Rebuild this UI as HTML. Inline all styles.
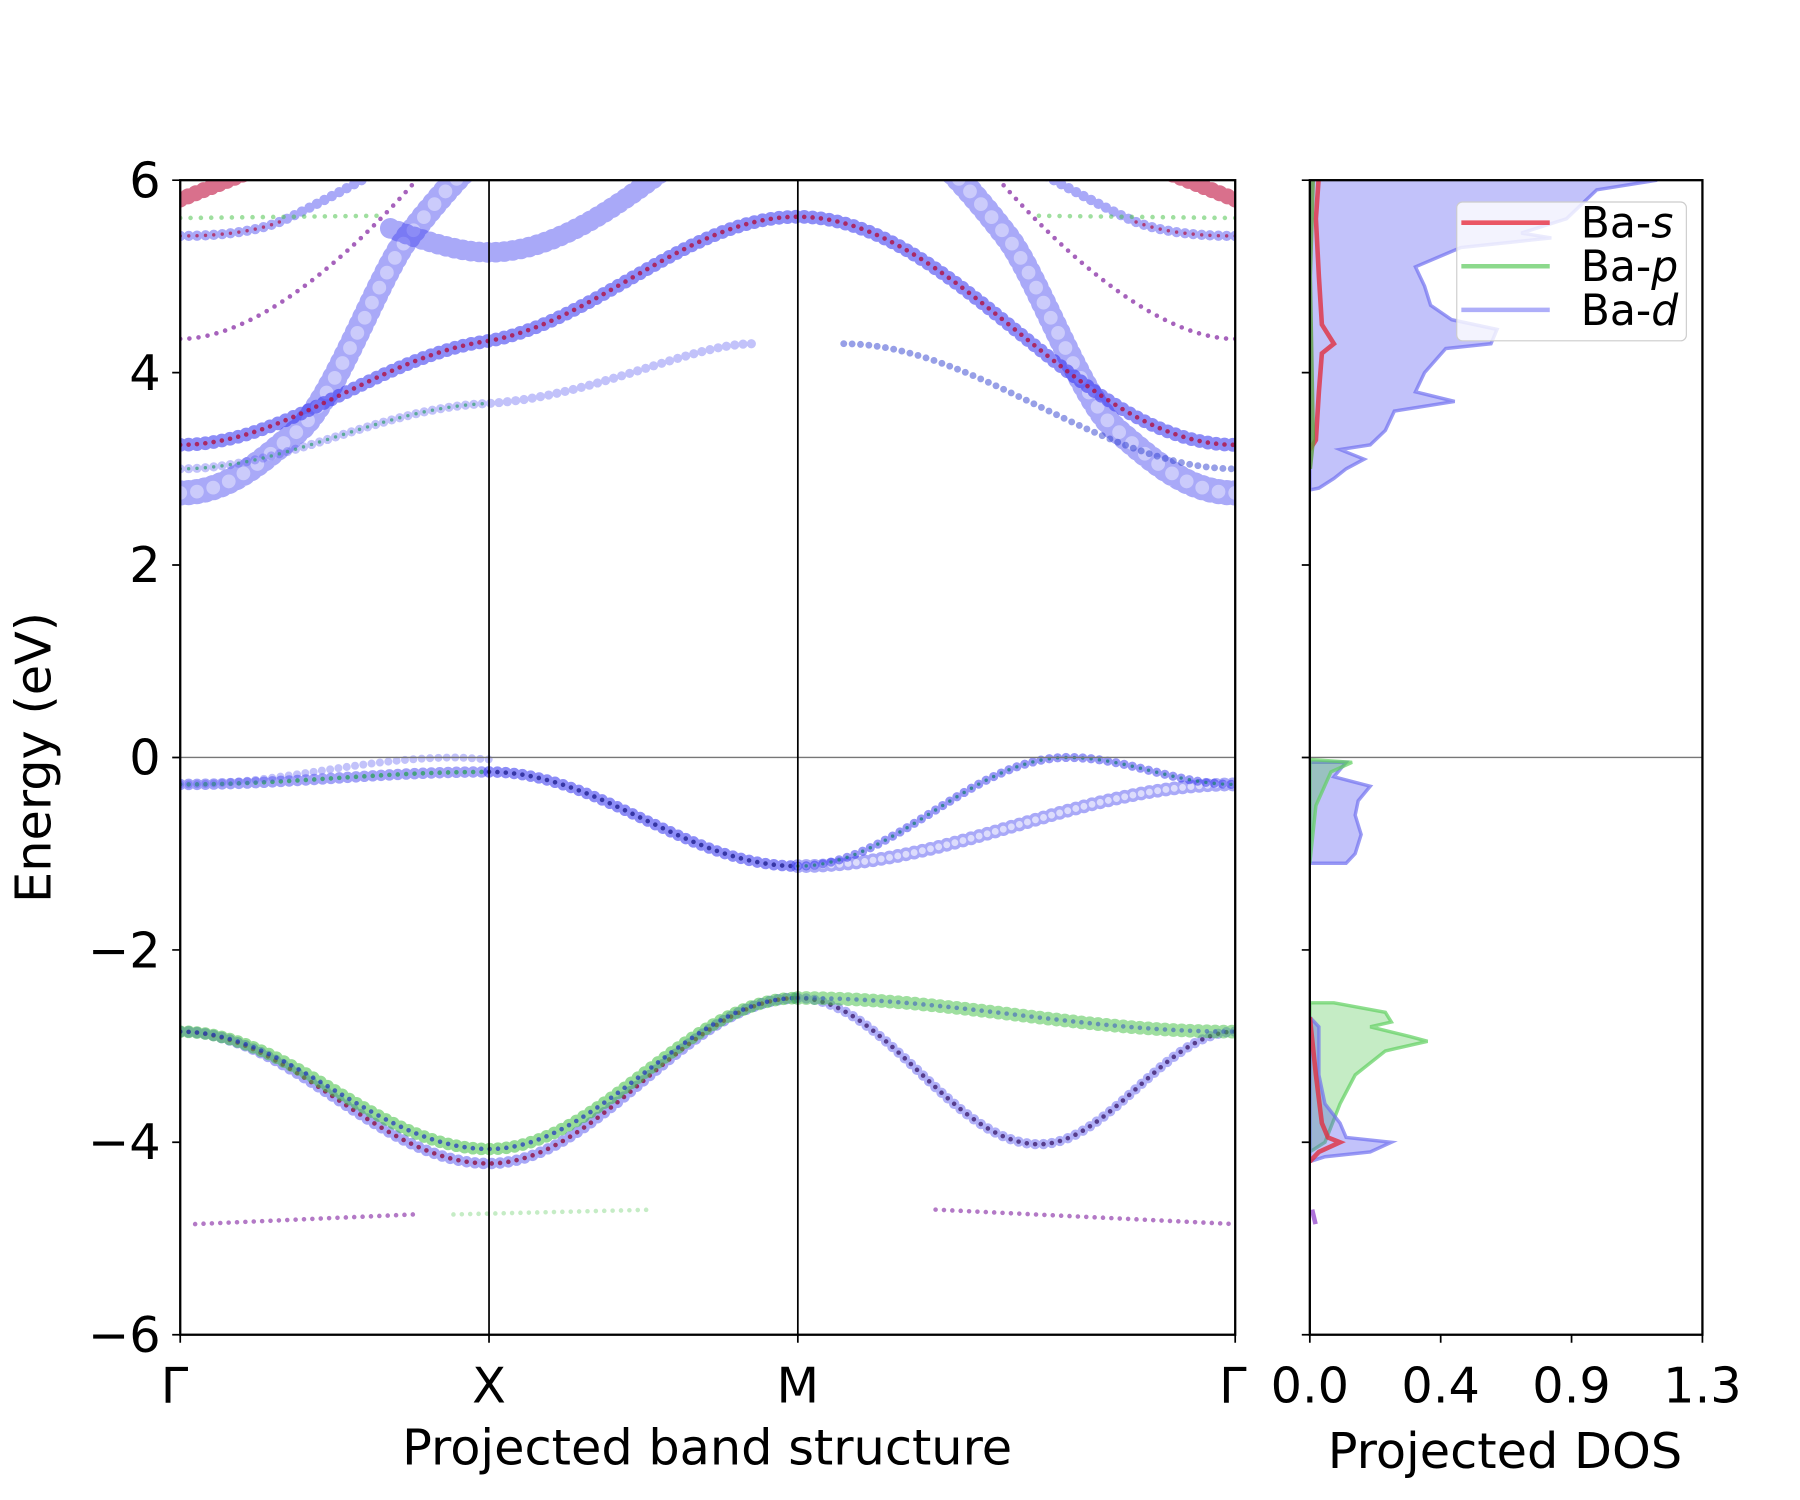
<!DOCTYPE html>
<html><head><meta charset="utf-8"><style>html,body{margin:0;padding:0;background:#fff}svg{display:block}</style></head>
<body>
<svg xmlns="http://www.w3.org/2000/svg" width="1800" height="1500" viewBox="0 0 1568 1307" preserveAspectRatio="none" font-family="DejaVu Sans, Liberation Sans, sans-serif">
<defs><clipPath id="c"><rect x="157" y="157" width="919" height="1006"/></clipPath><clipPath id="c2"><rect x="1141" y="157" width="342" height="1006"/></clipPath></defs>
<rect width="1568" height="1307" fill="#fff"/>
<g clip-path="url(#c)" fill="none" stroke-linecap="round">
<path d="M157 683.5 C253.8 683.5 329.2 672.6 426 672.6" stroke="#3030f0" stroke-opacity="0.45" stroke-width="10" stroke-dasharray="0 7.3"/>
<path d="M157 683.5 C253.8 683.5 329.2 672.6 426 672.6" stroke="#30a060" stroke-opacity="0.8" stroke-width="4" stroke-dasharray="0 7.3"/>
<path d="M157 683.5 C244.5 683.5 312.5 660 400 660 L426 661.7" stroke="#5050f0" stroke-opacity="0.35" stroke-width="7" stroke-dasharray="0 7.3"/>
<path d="M426 672.6 C522.8 672.6 598.2 754.7 695 754.7" stroke="#3030f0" stroke-opacity="0.55" stroke-width="10" stroke-dasharray="0 7.3"/>
<path d="M426 672.6 C522.8 672.6 598.2 754.7 695 754.7" stroke="#202090" stroke-opacity="0.8" stroke-width="4" stroke-dasharray="0 7.3"/>
<path d="M695 754.7 C832 754.7 939 683.5 1076 683.5" stroke="#4040f0" stroke-opacity="0.45" stroke-width="12" stroke-dasharray="0 7.3"/>
<path d="M695 754.7 C832 754.7 939 683.5 1076 683.5" stroke="#ffffff" stroke-opacity="0.6" stroke-width="6" stroke-dasharray="0 7.3"/>
<path d="M695 754.7 C779.6 754.7 845.4 660 930 660 C982.6 660 1023.4 683.5 1076 683.5" stroke="#3030f0" stroke-opacity="0.5" stroke-width="8" stroke-dasharray="0 7.3"/>
<path d="M695 754.7 C779.6 754.7 845.4 660 930 660 C982.6 660 1023.4 683.5 1076 683.5" stroke="#208080" stroke-opacity="0.8" stroke-width="3" stroke-dasharray="0 7.3"/>
<path d="M157 898.9 C253.8 898.9 329.2 1013.8 426 1013.8 C522.8 1013.8 598.2 869.6 695 869.6" stroke="#5050f0" stroke-opacity="0.5" stroke-width="10" stroke-dasharray="0 7.3"/>
<path d="M157 898.9 C253.8 898.9 329.2 1013.8 426 1013.8 C522.8 1013.8 598.2 869.6 695 869.6" stroke="#901040" stroke-opacity="0.8" stroke-width="4" stroke-dasharray="0 7.3"/>
<path d="M157 898.9 C253.8 898.9 329.2 1001.2 426 1001.2 C522.8 1001.2 598.2 869.6 695 869.6" stroke="#40c040" stroke-opacity="0.55" stroke-width="11" stroke-dasharray="0 7.3"/>
<path d="M157 898.9 C253.8 898.9 329.2 1001.2 426 1001.2 C522.8 1001.2 598.2 869.6 695 869.6" stroke="#2030c0" stroke-opacity="0.7" stroke-width="4" stroke-dasharray="0 7.3"/>
<path d="M695 869.6 C770.6 869.6 829.4 997 905 997 C966.6 997 1014.4 898.9 1076 898.9" stroke="#5050f0" stroke-opacity="0.45" stroke-width="9" stroke-dasharray="0 7.3"/>
<path d="M695 869.6 C770.6 869.6 829.4 997 905 997 C966.6 997 1014.4 898.9 1076 898.9" stroke="#402070" stroke-opacity="0.8" stroke-width="4" stroke-dasharray="0 7.3"/>
<path d="M695 869.6 C832 869.6 939 898.9 1076 898.9" stroke="#40c040" stroke-opacity="0.5" stroke-width="12" stroke-dasharray="0 7.3"/>
<path d="M695 869.6 C832 869.6 939 898.9 1076 898.9" stroke="#4060c0" stroke-opacity="0.6" stroke-width="4" stroke-dasharray="0 7.3"/>
<path d="M170 1066.6 L360 1058.2" stroke="#8020a0" stroke-opacity="0.6" stroke-width="4" stroke-dasharray="0 7.3"/>
<path d="M395 1058.2 L570 1054" stroke="#40c040" stroke-opacity="0.3" stroke-width="4" stroke-dasharray="0 7.3"/>
<path d="M815 1054 L1076 1066.6" stroke="#8020a0" stroke-opacity="0.6" stroke-width="4" stroke-dasharray="0 7.3"/>
<path d="M157 429.5 C200 429.5 230 400 260 375 S330 240 355 207.3 S410 140 440 115" stroke="#4040f0" stroke-opacity="0.45" stroke-width="22" stroke-dasharray="0 7.3"/>
<path d="M157 429.5 C200 429.5 230 400 260 375 S330 240 355 207.3 S410 140 440 115" stroke="#ffffff" stroke-opacity="0.4" stroke-width="12" stroke-dasharray="0 14.6"/>
<path d="M1076 429.5 C1033 429.5 1003 400 973 375 S903 240 878 207.3 S823 140 793 115" stroke="#4040f0" stroke-opacity="0.45" stroke-width="22" stroke-dasharray="0 7.3"/>
<path d="M1076 429.5 C1033 429.5 1003 400 973 375 S903 240 878 207.3 S823 140 793 115" stroke="#ffffff" stroke-opacity="0.4" stroke-width="12" stroke-dasharray="0 14.6"/>
<path d="M157 387.6 C250 387.6 330 310 426 297 C520 280 600 188.9 695 188.9 C832 188.9 939 387.6 1076 387.6" stroke="#3030f0" stroke-opacity="0.55" stroke-width="12" stroke-dasharray="0 7.3"/>
<path d="M157 387.6 C250 387.6 330 310 426 297 C520 280 600 188.9 695 188.9 C832 188.9 939 387.6 1076 387.6" stroke="#b01040" stroke-opacity="0.8" stroke-width="4" stroke-dasharray="0 7.3"/>
<path d="M157 408.5 C250 408.5 330 355 426 351.5 C520 345 600 300 655 299.5" stroke="#5050f0" stroke-opacity="0.35" stroke-width="8" stroke-dasharray="0 7.3"/>
<path d="M157 408.5 C250 408.5 330 355 426 351.5" stroke="#30a070" stroke-opacity="0.7" stroke-width="3" stroke-dasharray="0 7.3"/>
<path d="M735 299.5 C850 299.5 960 408.5 1076 408.5" stroke="#3040d0" stroke-opacity="0.5" stroke-width="6" stroke-dasharray="0 7.3"/>
<path d="M340 199 C370 210 400 219.9 426 219.9 C490 219.9 550 170 600 131.9" stroke="#4040f0" stroke-opacity="0.45" stroke-width="18" stroke-dasharray="0 7.3"/>
<path d="M157 205.6 C200 205.6 230 200 250 190.6 S310 160 330 148.6" stroke="#4040f0" stroke-opacity="0.45" stroke-width="9" stroke-dasharray="0 7.3"/>
<path d="M157 205.6 C200 205.6 230 200 250 190.6" stroke="#b01040" stroke-opacity="0.7" stroke-width="3" stroke-dasharray="0 7.3"/>
<path d="M1076 205.6 C1033 205.6 1003 200 983 190.6 S923 160 903 148.6" stroke="#4040f0" stroke-opacity="0.45" stroke-width="9" stroke-dasharray="0 7.3"/>
<path d="M1076 205.6 C1033 205.6 1003 200 983 190.6" stroke="#b01040" stroke-opacity="0.7" stroke-width="3" stroke-dasharray="0 7.3"/>
<path d="M157 295.3 C220 295.3 300 230 370 148.6" stroke="#8020a0" stroke-opacity="0.7" stroke-width="4" stroke-dasharray="0 8"/>
<path d="M1076 295.3 C1013 295.3 933 230 863 148.6" stroke="#8020a0" stroke-opacity="0.7" stroke-width="4" stroke-dasharray="0 8"/>
<path d="M157 173.8 L220 148.6" stroke="#c01040" stroke-opacity="0.6" stroke-width="14" stroke-dasharray="0 7.3"/>
<path d="M1076 173.8 L1013 148.6" stroke="#c01040" stroke-opacity="0.6" stroke-width="14" stroke-dasharray="0 7.3"/>
<path d="M157 190 L330 188" stroke="#40c040" stroke-opacity="0.5" stroke-width="4" stroke-dasharray="0 9"/>
<path d="M1076 190 L903 188" stroke="#40c040" stroke-opacity="0.5" stroke-width="4" stroke-dasharray="0 9"/>
</g>
<g clip-path="url(#c2)" stroke-width="3">
<polygon points="1141,152.8 1443.5,157 1390.9,165.4 1364.6,190.6 1325.1,203.1 1351.4,207.3 1272.5,215.7 1233,232.5 1240.9,249.2 1246.2,266 1264.6,278.6 1304.1,287 1298.8,299.5 1259.4,303.7 1240.9,324.7 1233,341.4 1267.2,349.8 1214.6,358.2 1206.8,375 1193.6,387.6 1167.3,391.7 1188.3,400.1 1172.6,408.5 1162,416.9 1148.9,425.3 1141,426.9" fill="#5050f0" fill-opacity="0.35" stroke="#7070f0" stroke-opacity="0.7"/>
<polygon points="1141,664.2 1172.6,664.2 1162,676.8 1193.6,685.1 1183.1,697.7 1180.5,710.3 1185.7,727.1 1180.5,743.8 1172.6,752.2 1141,752.2" fill="#5050f0" fill-opacity="0.35" stroke="#7070f0" stroke-opacity="0.7"/>
<polygon points="1141,661.7 1177.8,664.2 1159.4,672.6 1146.3,701.9 1141,752.2" fill="#40c040" fill-opacity="0.3" stroke="#60d060" stroke-opacity="0.7"/>
<polygon points="1141,873.8 1162,873.8 1206.8,882.1 1212,890.5 1193.6,894.7 1227.8,903.1 1243.6,907.3 1206.8,915.7 1180.5,936.6 1167.3,961.8 1154.2,995.3 1141,1003.7" fill="#40c040" fill-opacity="0.3" stroke="#60d060" stroke-opacity="0.7"/>
<polygon points="1141,886.3 1148.9,894.7 1148.9,936.6 1154.2,961.8 1167.3,978.6 1172.6,991.1 1212,995.3 1193.6,1003.7 1154.2,1007.9 1141,1012.1" fill="#5050f0" fill-opacity="0.35" stroke="#7070f0" stroke-opacity="0.7"/>
<g fill="none" stroke-width="4" stroke-opacity="0.8">
<polyline points="1148.9,152.8 1146.3,190.6 1148.9,240.9 1151.5,282.8 1162,299.5 1151.5,307.9 1148.9,341.4 1146.3,383.4 1141,391.7" stroke="#e03040"/>
<polyline points="1143.6,152.8 1141,240.9 1143.6,383.4 1141,408.5" stroke="#60a040"/>
<polyline points="1141,886.3 1146.3,936.6 1151.5,978.6 1156.8,991.1 1167.3,995.3 1148.9,1003.7 1141,1012.1" stroke="#e03040"/>
<polyline points="1143,1054 1146,1066.6" stroke="#9a50d0"/>
</g>
</g>
<line x1="157" y1="660" x2="1076" y2="660" stroke="#777" stroke-width="1.2"/>
<line x1="1141" y1="660" x2="1483" y2="660" stroke="#777" stroke-width="1.2"/>
<line x1="426" y1="157" x2="426" y2="1163" stroke="#000" stroke-width="1.5"/>
<line x1="695" y1="157" x2="695" y2="1163" stroke="#000" stroke-width="1.5"/>
<rect x="157" y="157" width="919" height="1006" fill="none" stroke="#000" stroke-width="2"/>
<rect x="1141" y="157" width="342" height="1006" fill="none" stroke="#000" stroke-width="2"/>
<g stroke="#000" stroke-width="1.5">
<path d="M150 157H157M150 324.7H157M150 492.3H157M150 660H157M150 827.7H157M150 995.3H157M150 1163H157"/>
<path d="M1134 157H1141M1134 324.7H1141M1134 492.3H1141M1134 660H1141M1134 827.7H1141M1134 995.3H1141M1134 1163H1141"/>
<path d="M157 1163V1170M426 1163V1170M695 1163V1170M1076 1163V1170M1141 1163V1170M1255 1163V1170M1369 1163V1170M1483 1163V1170"/>
</g>
<g font-size="43" fill="#000">
<text x="140" y="172" text-anchor="end">6</text>
<text x="140" y="340" text-anchor="end">4</text>
<text x="140" y="507" text-anchor="end">2</text>
<text x="140" y="675" text-anchor="end">0</text>
<text x="140" y="843" text-anchor="end">−2</text>
<text x="140" y="1010" text-anchor="end">−4</text>
<text x="140" y="1178" text-anchor="end">−6</text>
<text x="152" y="1222" text-anchor="middle">Γ</text>
<text x="426" y="1222" text-anchor="middle">X</text>
<text x="695" y="1222" text-anchor="middle">M</text>
<text x="1074" y="1222" text-anchor="middle">Γ</text>
<text x="1141" y="1222" text-anchor="middle">0.0</text>
<text x="1255" y="1222" text-anchor="middle">0.4</text>
<text x="1369" y="1222" text-anchor="middle">0.9</text>
<text x="1483" y="1222" text-anchor="middle">1.3</text>
<text x="616" y="1276" text-anchor="middle">Projected band structure</text>
<text x="1311" y="1279" text-anchor="middle">Projected DOS</text>
<text transform="translate(44,660) rotate(-90)" text-anchor="middle">Energy (eV)</text>
</g>
<rect x="1269" y="176" width="200" height="121" rx="5" fill="#fff" fill-opacity="0.8" stroke="#ccc"/>
<line x1="1273" y1="194" x2="1350" y2="194" stroke="#e83040" stroke-width="4" opacity="0.8"/>
<line x1="1273" y1="232" x2="1350" y2="232" stroke="#70d070" stroke-width="4" opacity="0.8"/>
<line x1="1273" y1="270" x2="1350" y2="270" stroke="#9a9af8" stroke-width="4" opacity="0.8"/>
<g font-size="37"><text x="1377" y="207">Ba-<tspan font-style="italic">s</tspan></text>
<text x="1377" y="245">Ba-<tspan font-style="italic">p</tspan></text>
<text x="1377" y="283">Ba-<tspan font-style="italic">d</tspan></text></g>
</svg>
</body></html>
